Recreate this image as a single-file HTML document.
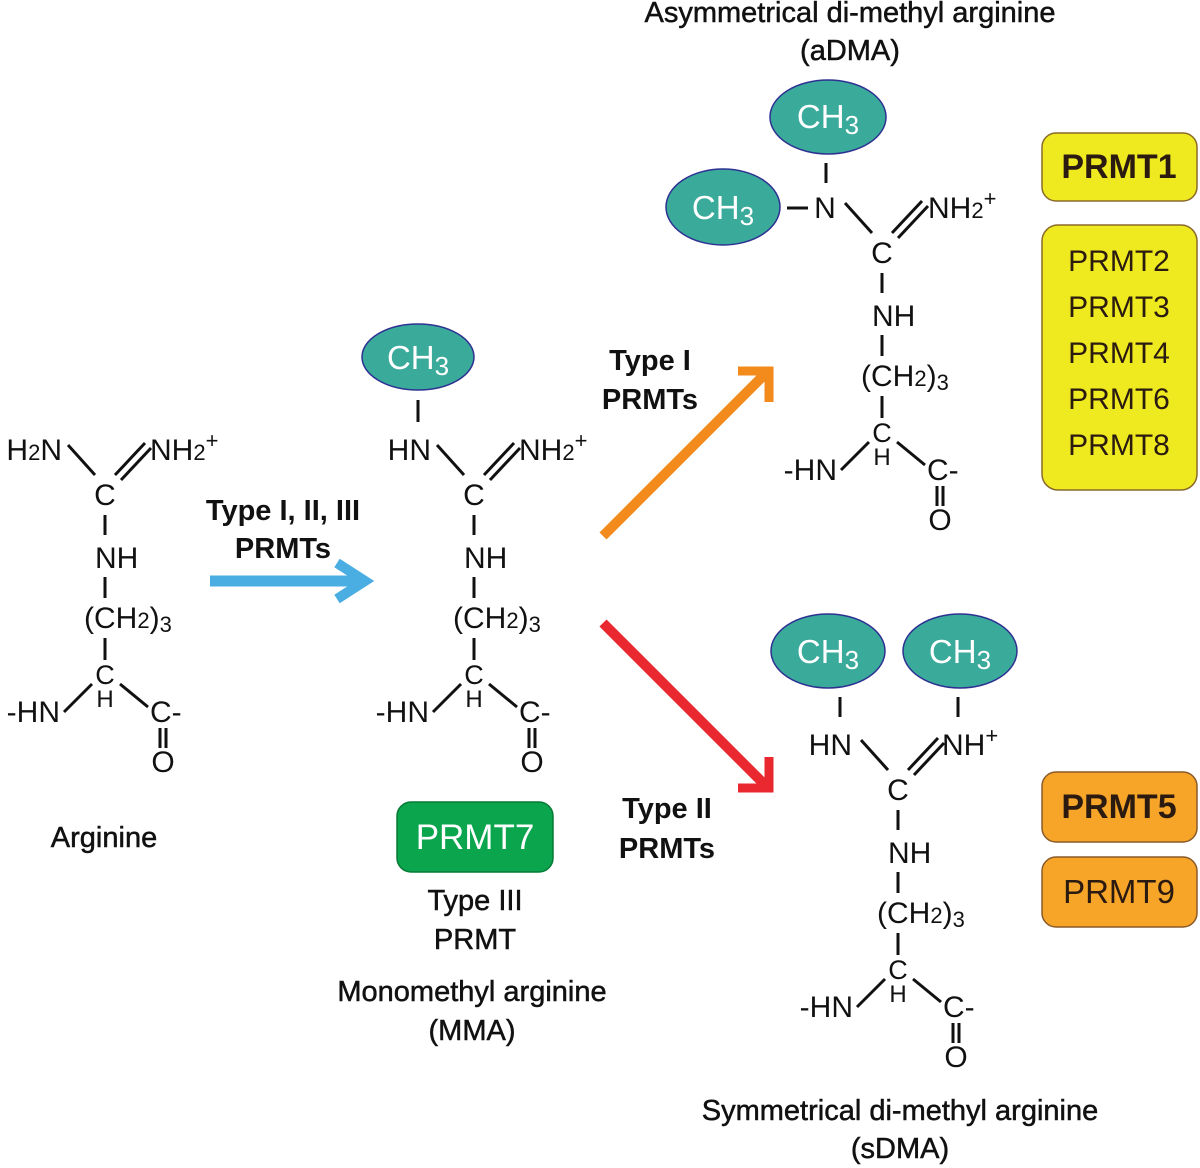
<!DOCTYPE html>
<html><head><meta charset="utf-8"><style>
html,body{margin:0;padding:0;background:#fff;}
svg{display:block;font-family:"Liberation Sans",Arial,sans-serif;}
.s{font-size:30px;fill:#111;}
.sub{font-size:22px;}
.b{stroke:#111;stroke-width:3;fill:none;}
.lb{font-size:29px;fill:#111;stroke:#111;stroke-width:0.5;text-anchor:middle;}
.bd{font-size:29px;font-weight:bold;fill:#111;text-anchor:middle;}
.ch{fill:#3aaa9b;stroke:#2e3192;stroke-width:1.5;}
.cht{font-size:33px;fill:#fff;text-anchor:middle;}
</style></head><body>
<svg width="1200" height="1168" viewBox="0 0 1200 1168" xmlns="http://www.w3.org/2000/svg">

<!-- Arginine -->
<g transform="translate(105,495)">
  <text class="s" x="-43" y="-35" text-anchor="end">H<tspan class="sub" dy="0">2</tspan>N</text>
  <text class="s" x="45" y="-35">NH<tspan class="sub">2</tspan><tspan class="sub" dy="-12">+</tspan></text>
  <line class="b" x1="-37" y1="-50" x2="-10" y2="-20"/>
  <line class="b" x1="10" y1="-20" x2="40" y2="-52"/><line class="b" x1="16" y1="-15" x2="46" y2="-47"/>
  <text class="s" x="0" y="10" text-anchor="middle">C</text>
  <line class="b" x1="0" y1="20" x2="0" y2="40"/>
  <text class="s" x="-10" y="73">NH</text>
  <line class="b" x1="0" y1="82" x2="0" y2="103"/>
  <text class="s" x="-21" y="133">(CH<tspan class="sub">2</tspan>)<tspan class="sub" dy="4">3</tspan></text>
  <line class="b" x1="0" y1="143" x2="0" y2="165"/>
  <text class="s" x="0" y="189" text-anchor="middle" style="font-size:27px">C</text>
  <text class="s" x="0" y="212" text-anchor="middle" style="font-size:24px">H</text>
  <text class="s" x="-45" y="227" text-anchor="end">-HN</text>
  <line class="b" x1="-41" y1="217" x2="-13" y2="189"/>
  <line class="b" x1="15" y1="189" x2="43" y2="212"/>
  <text class="s" x="45" y="227">C-</text>
  <line class="b" x1="55" y1="233" x2="55" y2="253"/><line class="b" x1="61" y1="233" x2="61" y2="253"/>
  <text class="s" x="58" y="277" text-anchor="middle">O</text>
</g>
<text class="lb" x="104" y="847">Arginine</text>

<!-- MMA -->
<g transform="translate(474,495)">
  <ellipse class="ch" cx="-56" cy="-138" rx="56" ry="33"/>
  <text class="cht" x="-56" y="-126">CH<tspan style="font-size:26px" dy="6">3</tspan></text>
  <line class="b" x1="-56" y1="-95" x2="-56" y2="-73"/>
  <text class="s" x="-43" y="-35" text-anchor="end">HN</text>
  <text class="s" x="45" y="-35">NH<tspan class="sub">2</tspan><tspan class="sub" dy="-12">+</tspan></text>
  <line class="b" x1="-37" y1="-50" x2="-10" y2="-20"/>
  <line class="b" x1="10" y1="-20" x2="40" y2="-52"/><line class="b" x1="16" y1="-15" x2="46" y2="-47"/>
  <text class="s" x="0" y="10" text-anchor="middle">C</text>
  <line class="b" x1="0" y1="20" x2="0" y2="40"/>
  <text class="s" x="-10" y="73">NH</text>
  <line class="b" x1="0" y1="82" x2="0" y2="103"/>
  <text class="s" x="-21" y="133">(CH<tspan class="sub">2</tspan>)<tspan class="sub" dy="4">3</tspan></text>
  <line class="b" x1="0" y1="143" x2="0" y2="165"/>
  <text class="s" x="0" y="189" text-anchor="middle" style="font-size:27px">C</text>
  <text class="s" x="0" y="212" text-anchor="middle" style="font-size:24px">H</text>
  <text class="s" x="-45" y="227" text-anchor="end">-HN</text>
  <line class="b" x1="-41" y1="217" x2="-13" y2="189"/>
  <line class="b" x1="15" y1="189" x2="43" y2="212"/>
  <text class="s" x="45" y="227">C-</text>
  <line class="b" x1="55" y1="233" x2="55" y2="253"/><line class="b" x1="61" y1="233" x2="61" y2="253"/>
  <text class="s" x="58" y="277" text-anchor="middle">O</text>
</g>
<rect x="397" y="802" width="156" height="70" rx="14" fill="#0aa54c" stroke="#067a36" stroke-width="1.5"/>
<text x="475" y="849" text-anchor="middle" style="font-size:35px;fill:#fff">PRMT7</text>
<text class="lb" x="475" y="910">Type III</text>
<text class="lb" x="475" y="949">PRMT</text>
<text class="lb" x="472" y="1001">Monomethyl arginine</text>
<text class="lb" x="472" y="1040">(MMA)</text>

<!-- Type I,II,III arrow -->
<text class="bd" x="283" y="520">Type I, II, III</text>
<text class="bd" x="283" y="558">PRMTs</text>
<line x1="210" y1="581" x2="358" y2="581" stroke="#4baee3" stroke-width="11"/>
<polyline points="337,563 365,581 337,599" fill="none" stroke="#4baee3" stroke-width="10" stroke-linejoin="miter"/>

<!-- orange arrow -->
<text class="bd" x="650" y="370">Type I</text>
<text class="bd" x="650" y="409">PRMTs</text>
<line x1="603" y1="536" x2="765" y2="374" stroke="#f28a1c" stroke-width="10"/>
<polyline points="738,371 769,371 769,402" fill="none" stroke="#f28a1c" stroke-width="9" stroke-linejoin="miter"/>

<!-- red arrow -->
<text class="bd" x="667" y="818">Type II</text>
<text class="bd" x="667" y="858">PRMTs</text>
<line x1="603" y1="623" x2="766" y2="786" stroke="#e9292f" stroke-width="10"/>
<polyline points="769,757 769,788 738,788" fill="none" stroke="#e9292f" stroke-width="9" stroke-linejoin="miter"/>

<!-- aDMA -->
<text class="lb" x="850" y="22">Asymmetrical di-methyl arginine</text>
<text class="lb" x="850" y="60">(aDMA)</text>
<ellipse class="ch" cx="828" cy="117" rx="58" ry="37"/>
<text class="cht" x="828" y="128">CH<tspan style="font-size:26px" dy="6">3</tspan></text>
<line class="b" x1="826" y1="163" x2="826" y2="183"/>
<ellipse class="ch" cx="723" cy="207" rx="57" ry="38"/>
<text class="cht" x="723" y="219">CH<tspan style="font-size:26px" dy="6">3</tspan></text>
<line class="b" x1="787" y1="208" x2="808" y2="208"/>
<g transform="translate(882,253)">
  <text class="s" x="-57" y="-35" text-anchor="middle">N</text>
  <text class="s" x="46" y="-35">NH<tspan class="sub">2</tspan><tspan class="sub" dy="-12">+</tspan></text>
  <line class="b" x1="-37" y1="-50" x2="-10" y2="-20"/>
  <line class="b" x1="10" y1="-20" x2="40" y2="-52"/><line class="b" x1="16" y1="-15" x2="46" y2="-47"/>
  <text class="s" x="0" y="10" text-anchor="middle">C</text>
  <line class="b" x1="0" y1="20" x2="0" y2="40"/>
  <text class="s" x="-10" y="73">NH</text>
  <line class="b" x1="0" y1="82" x2="0" y2="103"/>
  <text class="s" x="-21" y="133">(CH<tspan class="sub">2</tspan>)<tspan class="sub" dy="4">3</tspan></text>
  <line class="b" x1="0" y1="143" x2="0" y2="165"/>
  <text class="s" x="0" y="189" text-anchor="middle" style="font-size:27px">C</text>
  <text class="s" x="0" y="212" text-anchor="middle" style="font-size:24px">H</text>
  <text class="s" x="-45" y="227" text-anchor="end">-HN</text>
  <line class="b" x1="-41" y1="217" x2="-13" y2="189"/>
  <line class="b" x1="15" y1="189" x2="43" y2="212"/>
  <text class="s" x="45" y="227">C-</text>
  <line class="b" x1="55" y1="233" x2="55" y2="253"/><line class="b" x1="61" y1="233" x2="61" y2="253"/>
  <text class="s" x="58" y="277" text-anchor="middle">O</text>
</g>

<!-- right boxes -->
<rect x="1042" y="133" width="155" height="68" rx="14" fill="#efea1f" stroke="#8a6a2a" stroke-width="1.5"/>
<text x="1119" y="178" text-anchor="middle" style="font-size:34px;font-weight:bold;fill:#2a1a10">PRMT1</text>
<rect x="1042" y="225" width="155" height="265" rx="16" fill="#efea1f" stroke="#8a6a2a" stroke-width="1.5"/>
<g style="font-size:30px;fill:#2a1a10" text-anchor="middle">
<text x="1119" y="271">PRMT2</text>
<text x="1119" y="317">PRMT3</text>
<text x="1119" y="363">PRMT4</text>
<text x="1119" y="409">PRMT6</text>
<text x="1119" y="455">PRMT8</text>
</g>
<rect x="1042" y="772" width="155" height="70" rx="14" fill="#f7a528" stroke="#8a5a2a" stroke-width="1.5"/>
<text x="1119" y="818" text-anchor="middle" style="font-size:34px;font-weight:bold;fill:#2a1a10">PRMT5</text>
<rect x="1042" y="857" width="155" height="70" rx="14" fill="#f7a528" stroke="#8a5a2a" stroke-width="1.5"/>
<text x="1119" y="903" text-anchor="middle" style="font-size:33px;fill:#2a1a10">PRMT9</text>

<!-- sDMA -->
<ellipse class="ch" cx="828" cy="651" rx="57" ry="37"/>
<text class="cht" x="828" y="663">CH<tspan style="font-size:26px" dy="6">3</tspan></text>
<ellipse class="ch" cx="960" cy="651" rx="57" ry="37"/>
<text class="cht" x="960" y="663">CH<tspan style="font-size:26px" dy="6">3</tspan></text>
<line class="b" x1="840" y1="697" x2="840" y2="717"/>
<line class="b" x1="958" y1="697" x2="958" y2="717"/>
<g transform="translate(898,790)">
  <text class="s" x="-46" y="-35" text-anchor="end">HN</text>
  <text class="s" x="44" y="-35">NH<tspan class="sub" dy="-12">+</tspan></text>
  <line class="b" x1="-37" y1="-50" x2="-10" y2="-20"/>
  <line class="b" x1="10" y1="-20" x2="40" y2="-52"/><line class="b" x1="16" y1="-15" x2="46" y2="-47"/>
  <text class="s" x="0" y="10" text-anchor="middle">C</text>
  <line class="b" x1="0" y1="20" x2="0" y2="40"/>
  <text class="s" x="-10" y="73">NH</text>
  <line class="b" x1="0" y1="82" x2="0" y2="103"/>
  <text class="s" x="-21" y="133">(CH<tspan class="sub">2</tspan>)<tspan class="sub" dy="4">3</tspan></text>
  <line class="b" x1="0" y1="143" x2="0" y2="165"/>
  <text class="s" x="0" y="189" text-anchor="middle" style="font-size:27px">C</text>
  <text class="s" x="0" y="212" text-anchor="middle" style="font-size:24px">H</text>
  <text class="s" x="-45" y="227" text-anchor="end">-HN</text>
  <line class="b" x1="-41" y1="217" x2="-13" y2="189"/>
  <line class="b" x1="15" y1="189" x2="43" y2="212"/>
  <text class="s" x="45" y="227">C-</text>
  <line class="b" x1="55" y1="233" x2="55" y2="253"/><line class="b" x1="61" y1="233" x2="61" y2="253"/>
  <text class="s" x="58" y="277" text-anchor="middle">O</text>
</g>
<text class="lb" x="900" y="1120">Symmetrical di-methyl arginine</text>
<text class="lb" x="900" y="1158">(sDMA)</text>
</svg>
</body></html>
